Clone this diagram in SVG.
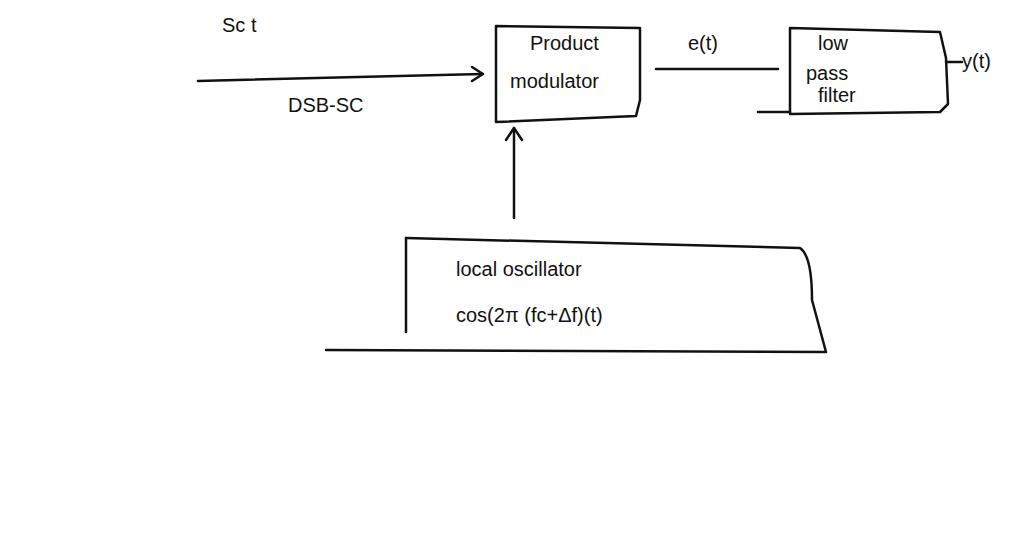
<svg xmlns="http://www.w3.org/2000/svg" width="1024" height="560" viewBox="0 0 1024 560">
<style>
.l{fill:none;stroke:#111;stroke-width:2.5;stroke-linecap:round;stroke-linejoin:round}
text{font-family:"Liberation Sans",Arial,sans-serif;font-size:20px;fill:#111}
</style>
<rect width="1024" height="560" fill="#fff"/>
<g id="connectors">
<path class="l" d="M198 81 L482 74"/><path class="l" d="M472 67 L483 74 L472 81"/>
<path class="l" d="M656 69 L778 69"/>
<path class="l" d="M514 218 L514 128"/><path class="l" d="M506 140 L514 128 L522 140"/>
<path class="l" d="M946 62 L962 62"/>
</g>
<g id="product_modulator">
<path class="l" d="M496 26 L640 28 L640 100 L636 116 L496 122 Z"/>
<text x="530" y="50">Product</text><text x="510" y="88">modulator</text>
</g>
<g id="low_pass_filter">
<path class="l" d="M790 28 L940 32 L946 58 L948 104 L940 112 L790 114 Z"/>
<path class="l" d="M758 112 L790 112"/>
<text x="818" y="50">low</text><text x="806" y="80">pass</text><text x="818" y="102">filter</text>
</g>
<g id="local_oscillator">
<path class="l" d="M406 238 L406 332"/>
<path class="l" d="M406 238 L800 248 Q812 256 812 300 L826 352 L326 350"/>
<text x="456" y="276">local   oscillator</text>
<text x="456" y="322">cos(2π (fc+Δf)(t)</text>
</g>
<text x="222" y="32">Sc t</text>
<text x="288" y="112">DSB-SC</text>
<text x="688" y="50">e(t)</text>
<text x="962" y="68">y(t)</text>
</svg>
